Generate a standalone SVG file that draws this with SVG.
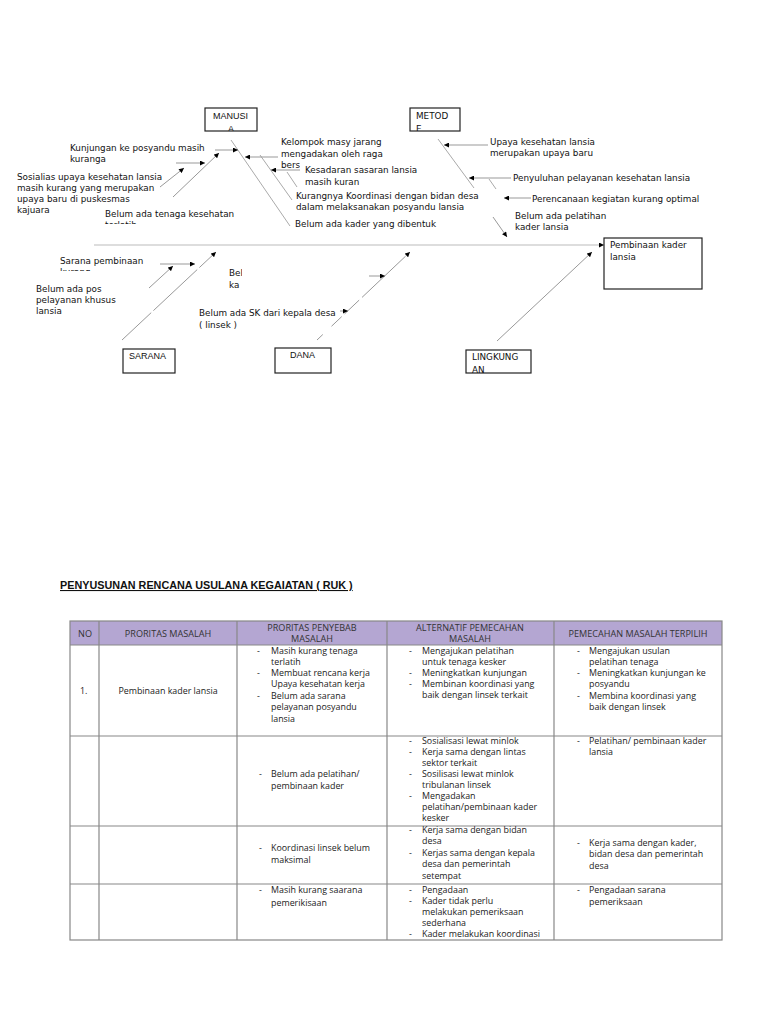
<svg xmlns="http://www.w3.org/2000/svg" width="768" height="1024" viewBox="0 0 768 1024">
<style>
.ft{font-family:"DejaVu Sans",sans-serif;font-size:8.8px;fill:#111}
.bx{fill:#fff;stroke:#222;stroke-width:1.2}
.bl{font-family:"Liberation Sans",Arial,sans-serif;font-size:9px;fill:#111}
.bone{stroke:#aaa;stroke-width:1;fill:none}
.arr{stroke:#999;stroke-width:1;fill:none;marker-end:url(#ah)}
.tt{font-family:"Open Sans",sans-serif;font-size:8.9px;fill:#222}
.th{font-family:"Open Sans",sans-serif;font-size:9.1px;fill:#333;text-anchor:middle}
.grid{stroke:#888;stroke-width:1.2;fill:none}
</style>
<defs>
<marker id="ah" viewBox="0 0 10 10" refX="10" refY="5" markerWidth="6" markerHeight="5" markerUnits="userSpaceOnUse" orient="auto"><path d="M0,0 L10,5 L0,10 z" fill="#000"/></marker>
<clipPath id="cMan"><rect x="205" y="108" width="52" height="23"/></clipPath>
<clipPath id="cMet"><rect x="410" y="108" width="50" height="23"/></clipPath>
<clipPath id="cLing"><rect x="466" y="350" width="65" height="23"/></clipPath>
<clipPath id="cTer"><rect x="100" y="205" width="150" height="19"/></clipPath>
<clipPath id="cKur"><rect x="55" y="252" width="100" height="19"/></clipPath>
<clipPath id="cBel"><rect x="226" y="265" width="16" height="30"/></clipPath>
<clipPath id="cBer"><rect x="278" y="160" width="22" height="12"/></clipPath>
</defs>
<rect width="768" height="1024" fill="#fff"/>

<g id="connectors">
<line x1="94" y1="245" x2="604" y2="245" stroke="#ddd" stroke-width="2" marker-end="url(#ah)"/>
<line class="bone" x1="231" y1="140" x2="290" y2="226"/>
<line class="bone" x1="260" y1="155" x2="292" y2="200"/>
<line class="bone" x1="287" y1="172" x2="297" y2="187"/>
<line class="arr" x1="215" y1="150" x2="238" y2="150"/>
<line class="arr" x1="173" y1="197" x2="219" y2="153"/>
<line class="arr" x1="176" y1="163" x2="205" y2="163"/>
<line class="arr" x1="160" y1="187" x2="184" y2="168"/>
<line class="arr" x1="278" y1="157" x2="245" y2="157"/>
<line class="arr" x1="300" y1="170" x2="271" y2="170"/>
<line class="bone" x1="438" y1="139" x2="474" y2="188"/>
<line class="bone" x1="489" y1="179" x2="496" y2="189"/>
<line class="arr" x1="488" y1="145" x2="444" y2="145"/>
<line class="arr" x1="511" y1="178" x2="469" y2="178"/>
<line class="arr" x1="531" y1="198" x2="504" y2="198"/>
<line class="arr" x1="493" y1="217" x2="507" y2="237"/>
<line class="arr" x1="122" y1="340" x2="216" y2="252" stroke-dasharray="40 3 60 3"/>
<line class="arr" x1="160" y1="264" x2="195" y2="264"/>
<line class="arr" x1="149" y1="288" x2="173" y2="266"/>
<line class="arr" x1="317" y1="340" x2="410" y2="252" stroke-dasharray="8 12 14 4 20 4 60 2"/>
<line class="arr" x1="369" y1="276" x2="385" y2="276"/>
<line class="arr" x1="340" y1="311" x2="348" y2="311"/>
<line class="arr" x1="497" y1="341" x2="592" y2="252"/>
</g>

<g id="node-manusia">
<rect class="bx" x="205" y="108" width="52" height="23"/>
<g clip-path="url(#cMan)"><text class="bl" x="213" y="119">MANUSI</text><text class="bl" x="228" y="132">A</text></g>
</g>
<g id="node-metode">
<rect class="bx" x="410" y="108" width="50" height="23"/>
<g clip-path="url(#cMet)"><text class="ft" x="416" y="119">METOD</text><text class="ft" x="416" y="132">E</text></g>
</g>
<g id="node-effect">
<rect class="bx" x="604" y="238" width="98" height="51"/>
<text class="ft" x="610" y="248">Pembinaan kader</text>
<text class="ft" x="610" y="260">lansia</text>
</g>
<g id="node-sarana">
<rect class="bx" x="123" y="349" width="52" height="24"/>
<text class="bl" x="129" y="359">SARANA</text>
</g>
<g id="node-dana">
<rect class="bx" x="275" y="348" width="56" height="25"/>
<text class="bl" x="290" y="358">DANA</text>
</g>
<g id="node-lingkungan">
<rect class="bx" x="466" y="350" width="65" height="23"/>
<g clip-path="url(#cLing)"><text class="ft" x="472" y="360">LINGKUNG</text><text class="ft" x="472" y="373">AN</text></g>
</g>

<g id="causes">
<text class="ft" x="70" y="151">Kunjungan ke posyandu masih</text>
<text class="ft" x="70" y="162">kuranga</text>
<text class="ft" x="17" y="180">Sosialias upaya kesehatan lansia</text>
<text class="ft" x="17" y="191">masih kurang yang merupakan</text>
<text class="ft" x="17" y="202">upaya baru di puskesmas</text>
<text class="ft" x="17" y="213">kajuara</text>
<text class="ft" x="105" y="217">Belum ada tenaga kesehatan</text>
<g clip-path="url(#cTer)"><text class="ft" x="105" y="228">terlatih</text></g>
<text class="ft" x="281" y="145">Kelompok masy jarang</text>
<text class="ft" x="281" y="157">mengadakan oleh raga</text>
<g clip-path="url(#cBer)"><text class="ft" x="281" y="168">bers</text></g>
<text class="ft" x="305" y="173">Kesadaran sasaran lansia</text>
<text class="ft" x="305" y="185">masih kuran</text>
<text class="ft" x="296" y="199">Kurangnya Koordinasi dengan bidan desa</text>
<text class="ft" x="296" y="210">dalam melaksanakan posyandu lansia</text>
<text class="ft" x="295" y="227">Belum ada kader yang dibentuk</text>
<text class="ft" x="490" y="145">Upaya kesehatan lansia</text>
<text class="ft" x="490" y="156">merupakan upaya baru</text>
<text class="ft" x="513" y="181">Penyuluhan pelayanan kesehatan lansia</text>
<text class="ft" x="532" y="202">Perencanaan kegiatan kurang optimal</text>
<text class="ft" x="515" y="219">Belum ada pelatihan</text>
<text class="ft" x="515" y="230">kader lansia</text>
<text class="ft" x="60" y="264">Sarana pembinaan</text>
<g clip-path="url(#cKur)"><text class="ft" x="60" y="275">kurang</text></g>
<text class="ft" x="36" y="292">Belum ada pos</text>
<text class="ft" x="36" y="303">pelayanan khusus</text>
<text class="ft" x="36" y="314">lansia</text>
<g clip-path="url(#cBel)"><text class="ft" x="229" y="276">Bel</text><text class="ft" x="229" y="288">ka</text></g>
<text class="ft" x="199" y="316">Belum ada SK dari kepala desa</text>
<text class="ft" x="199" y="328">( linsek )</text>
</g>

<g id="title">
<text x="60" y="589" font-family="Liberation Sans,Arial,sans-serif" font-size="10.8" font-weight="bold" fill="#111" text-decoration="underline">PENYUSUNAN RENCANA USULANA KEGAIATAN ( RUK )</text>
</g>

<g id="table">
<rect x="70" y="621" width="652" height="24" fill="#b4a6d2"/>
<rect class="grid" x="70" y="621" width="652" height="319"/>
<line class="grid" x1="70" y1="645" x2="722" y2="645"/>
<line class="grid" x1="70" y1="736" x2="722" y2="736"/>
<line class="grid" x1="70" y1="826" x2="722" y2="826"/>
<line class="grid" x1="70" y1="884" x2="722" y2="884"/>
<line class="grid" x1="99" y1="621" x2="99" y2="940"/>
<line class="grid" x1="237" y1="621" x2="237" y2="940" stroke="#aaa"/>
<line class="grid" x1="387" y1="621" x2="387" y2="940"/>
<line class="grid" x1="554" y1="621" x2="554" y2="940"/>

<text class="th" x="85" y="637">NO</text>
<text class="th" x="168" y="637">PRORITAS MASALAH</text>
<text class="th" x="312" y="631">PRORITAS PENYEBAB</text>
<text class="th" x="312" y="642">MASALAH</text>
<text class="th" x="470" y="631">ALTERNATIF PEMECAHAN</text>
<text class="th" x="470" y="642">MASALAH</text>
<text class="th" x="638" y="637">PEMECAHAN MASALAH TERPILIH</text>

<text class="tt" x="80" y="694">1.</text>
<text class="tt" x="168" y="694" text-anchor="middle">Pembinaan kader lansia</text>

<g class="tt">
<text x="257" y="654">-</text><text x="271" y="654">Masih kurang tenaga</text>
<text x="271" y="665">terlatih</text>
<text x="257" y="676">-</text><text x="271" y="676">Membuat rencana kerja</text>
<text x="271" y="687">Upaya kesehatan kerja</text>
<text x="257" y="699">-</text><text x="271" y="699">Belum ada sarana</text>
<text x="271" y="710">pelayanan posyandu</text>
<text x="271" y="722">lansia</text>

<text x="409" y="654">-</text><text x="422" y="654">Mengajukan pelatihan</text>
<text x="422" y="665">untuk tenaga kesker</text>
<text x="409" y="676">-</text><text x="422" y="676">Meningkatkan kunjungan</text>
<text x="409" y="687">-</text><text x="422" y="687">Membinan koordinasi yang</text>
<text x="422" y="698">baik dengan linsek terkait</text>

<text x="577" y="654">-</text><text x="589" y="654">Mengajukan usulan</text>
<text x="589" y="665">pelatihan tenaga</text>
<text x="577" y="676">-</text><text x="589" y="676">Meningkatkan kunjungan ke</text>
<text x="589" y="687">posyandu</text>
<text x="577" y="699">-</text><text x="589" y="699">Membina koordinasi yang</text>
<text x="589" y="710">baik dengan linsek</text>

<text x="259" y="777">-</text><text x="271" y="777">Belum ada pelatihan/</text>
<text x="271" y="789">pembinaan kader</text>

<text x="409" y="744">-</text><text x="422" y="744">Sosialisasi lewat minlok</text>
<text x="409" y="755">-</text><text x="422" y="755">Kerja sama dengan lintas</text>
<text x="422" y="766">sektor terkait</text>
<text x="409" y="777">-</text><text x="422" y="777">Sosilisasi lewat minlok</text>
<text x="422" y="788">tribulanan linsek</text>
<text x="409" y="799">-</text><text x="422" y="799">Mengadakan</text>
<text x="422" y="810">pelatihan/pembinaan kader</text>
<text x="422" y="821">kesker</text>

<text x="577" y="744">-</text><text x="589" y="744">Pelatihan/ pembinaan kader</text>
<text x="589" y="755">lansia</text>

<text x="259" y="851">-</text><text x="271" y="851">Koordinasi linsek belum</text>
<text x="271" y="863">maksimal</text>

<text x="409" y="833">-</text><text x="422" y="833">Kerja sama dengan bidan</text>
<text x="422" y="844">desa</text>
<text x="409" y="856">-</text><text x="422" y="856">Kerjas sama dengan kepala</text>
<text x="422" y="867">desa dan pemerintah</text>
<text x="422" y="879">setempat</text>

<text x="577" y="846">-</text><text x="589" y="846">Kerja sama dengan kader,</text>
<text x="589" y="857">bidan desa dan pemerintah</text>
<text x="589" y="869">desa</text>

<text x="259" y="893">-</text><text x="271" y="893">Masih kurang saarana</text>
<text x="271" y="906">pemerikisaan</text>

<text x="409" y="893">-</text><text x="422" y="893">Pengadaan</text>
<text x="409" y="904">-</text><text x="422" y="904">Kader tidak perlu</text>
<text x="422" y="915">melakukan pemeriksaan</text>
<text x="422" y="926">sederhana</text>
<text x="409" y="937">-</text><text x="422" y="937">Kader melakukan koordinasi</text>

<text x="577" y="893">-</text><text x="589" y="893">Pengadaan sarana</text>
<text x="589" y="905">pemeriksaan</text>
</g>
</g>
</svg>
